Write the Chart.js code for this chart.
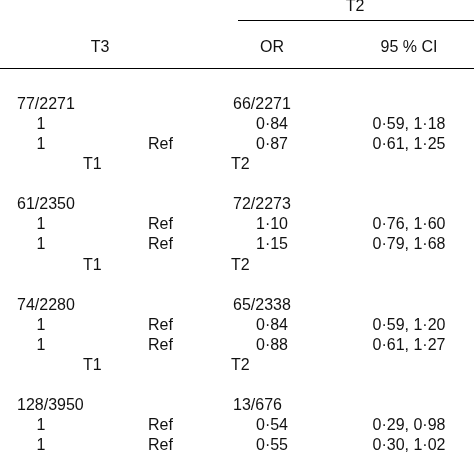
<!DOCTYPE html>
<html><head><meta charset="utf-8">
<script src="https://cdn.jsdelivr.net/npm/chart.js@4"></script>
<style>html,body{margin:0;padding:0;background:#fff}#w{width:474px;height:474px}</style>
</head><body><div id="w"><canvas id="c"></canvas></div>
<script>
const headerTop = "T2";
const headers = ["T3", "OR", "95 % CI"];
const counts1 = ["77/2271", "61/2350", "74/2280", "128/3950"];
const counts2 = ["66/2271", "72/2273", "65/2338", "13/676"];
const refCol = [["", "Ref"], ["Ref", "Ref"], ["Ref", "Ref"], ["Ref", "Ref"]];
const orVals = [["0·84", "0·87"], ["1·10", "1·15"], ["0·84", "0·88"], ["0·54", "0·55"]];
const ciVals = [["0·59, 1·18", "0·61, 1·25"], ["0·76, 1·60", "0·79, 1·68"], ["0·59, 1·20", "0·61, 1·27"], ["0·29, 0·98", "0·30, 1·02"]];
const footA = ["T1", "T1", "T1"];
const footB = ["T2", "T2", "T2"];

const COL = {c1:17, one:41, ref:148, t1:83, or:272, c2:233, t2:231, ci:409, hT3:100, hT2:355};
const cells = [];
cells.push({x:COL.hT2, y:-4.85, t:headerTop, a:'center'});
cells.push({x:COL.hT3, y:-2.85, t:headers[0], a:'center'});
cells.push({x:COL.or, y:-2.85, t:headers[1], a:'center'});
cells.push({x:COL.ci, y:-2.85, t:headers[2], a:'center'});
for (let g=0; g<4; g++){
  const r0 = g*5;
  cells.push({x:COL.c1, y:r0, t:counts1[g], a:'left'});
  cells.push({x:COL.c2, y:r0, t:counts2[g], a:'left'});
  for (let k=0;k<2;k++){
    cells.push({x:COL.one, y:r0+1+k, t:"1", a:'center'});
    if (refCol[g][k]) cells.push({x:COL.ref, y:r0+1+k, t:refCol[g][k], a:'left'});
    cells.push({x:COL.or, y:r0+1+k, t:orVals[g][k], a:'center'});
    cells.push({x:COL.ci, y:r0+1+k, t:ciVals[g][k], a:'center'});
  }
  if (g<3){
    cells.push({x:COL.t1, y:r0+3, t:footA[g], a:'left'});
    cells.push({x:COL.t2, y:r0+3, t:footB[g], a:'left'});
  }
}
const rules = [{x0:238,x1:474,y:-4.2},{x0:0,x1:474,y:-1.82}];

const textPlugin = {
  id:'tbl',
  afterDatasetsDraw(chart){
    const ctx = chart.ctx, xs = chart.scales.x, ys = chart.scales.y;
    ctx.save();
    ctx.strokeStyle = '#000'; ctx.lineWidth = 1;
    rules.forEach(r=>{
      const y = Math.round(ys.getPixelForValue(r.y))+0.5;
      ctx.beginPath(); ctx.moveTo(xs.getPixelForValue(r.x0), y); ctx.lineTo(xs.getPixelForValue(r.x1), y); ctx.stroke();
    });
    ctx.fillStyle = '#111';
    ctx.font = '16px "Liberation Sans", Arial, sans-serif';
    ctx.textBaseline = 'middle';
    chart.data.datasets[0].data.forEach(d=>{
      ctx.textAlign = d.a;
      ctx.fillText(d.t, xs.getPixelForValue(d.x), ys.getPixelForValue(d.y));
    });
    ctx.restore();
  }
};

new Chart(document.getElementById('c'), {
  type:'scatter',
  data:{datasets:[{data:cells, pointRadius:0}]},
  options:{
    responsive:true, maintainAspectRatio:false, animation:false,
    layout:{padding:0},
    plugins:{legend:{display:false}, tooltip:{enabled:false}},
    scales:{
      x:{type:'linear', min:0, max:474, display:false},
      y:{type:'linear', min:-5.2, max:18.4, reverse:true, display:false}
    }
  },
  plugins:[textPlugin]
});
</script></body></html>
